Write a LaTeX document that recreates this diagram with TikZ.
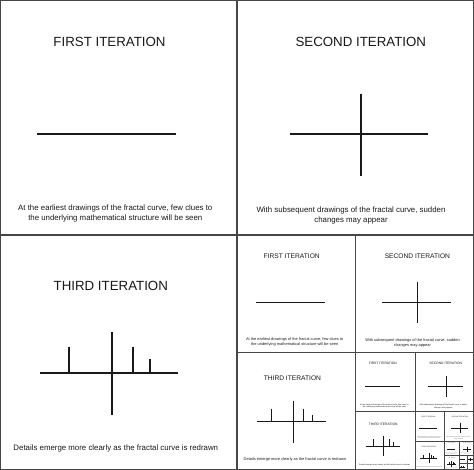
\documentclass[tikz,border=0pt]{standalone}
\usepackage{fontspec}
\setmainfont{Liberation Sans}
\usepackage{xcolor}
\usetikzlibrary{positioning}
\definecolor{framegray}{RGB}{70, 70, 70}
\definecolor{inkgray}{RGB}{25, 25, 25}

\tikzset{
  itertitle/.style={font=\fontsize{13.3}{16}\selectfont, text=inkgray, inner sep=0pt},
  itercaption/.style={font=\fontsize{7.85}{10}\selectfont, text=inkgray, align=center, inner sep=0pt},
}

\begin{document}
\begin{tikzpicture}[x=1pt, y=-1pt]
  \useasboundingbox (0,0) rectangle (474,470);
  \fill[white] (0,0) rectangle (474,470);
  % each level is the whole sheet again, at half size, in the bottom right panel
  \foreach \lvl in {0,...,5}{
    \pgfmathsetmacro\sc{0.5^\lvl}
    \pgfmathsetmacro\offx{474*(1-\sc)}
    \pgfmathsetmacro\offy{470*(1-\sc)}
    \pgfmathsetmacro\lw{1.35*\sc}
    \pgfmathsetmacro\fw{1.4*\sc}
    \begin{scope}[shift={(\offx,\offy)}, scale=\sc, transform shape]
      % panel frames
      \draw[framegray, line width=\fw pt] (0,0) rectangle (474,470);
      \draw[framegray, line width=\fw pt] (237,0) -- (237,470);
      \draw[framegray, line width=\fw pt] (0,235) -- (474,235);
      % first iteration
      \node[itertitle] (first-\lvl) at (109.5,41.5) {FIRST ITERATION};
      \draw[inkgray, line width=\lw pt] (37,134) -- (176,134);
      \node[itercaption] (firstcap-\lvl) at (115.3,213.3)
        {At the earliest drawings of the fractal curve, few clues to\\
         the underlying mathematical structure will be seen};
      % second iteration
      \node[itertitle] (second-\lvl) at (360.8,41.7) {SECOND ITERATION};
      \draw[inkgray, line width=\lw pt] (290,134) -- (428,134);
      \draw[inkgray, line width=\lw pt] (361,94) -- (361,176);
      \node[itercaption] (secondcap-\lvl) at (351,215.5)
        {With subsequent drawings of the fractal curve, sudden\\
         changes may appear};
      % third iteration
      \node[itertitle] (third-\lvl) at (110.8,285.7) {THIRD ITERATION};
      \draw[inkgray, line width=\lw pt] (40,373) -- (178,373);
      \draw[inkgray, line width=\lw pt] (112,332) -- (112,415);
      \draw[inkgray, line width=\lw pt] (69,347) -- (69,373);
      \draw[inkgray, line width=\lw pt] (133,347) -- (133,373);
      \draw[inkgray, line width=\lw pt] (150,359) -- (150,373);
      \node[itercaption] (thirdcap-\lvl) at (115.8,448.3)
        {Details emerge more clearly as the fractal curve is redrawn};
    \end{scope}
  }
\end{tikzpicture}
\end{document}
